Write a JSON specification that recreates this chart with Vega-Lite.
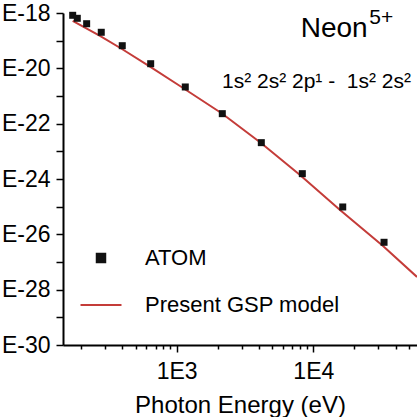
{
  "$schema": "https://vega.github.io/schema/vega-lite/v6.json",
  "width": 354,
  "height": 332,
  "autosize": "none",
  "padding": {"left": 63, "top": 13, "right": 0, "bottom": 72},
  "background": "white",
  "config": {
    "view": {"stroke": null},
    "font": "Liberation Sans",
    "axis": {"grid": false, "domainColor": "black", "domainWidth": 2, "tickColor": "black", "tickWidth": 1.5, "labelColor": "black", "titleColor": "black", "labelFont": "Liberation Sans", "titleFont": "Liberation Sans", "labelFontWeight": "normal", "titleFontWeight": "normal"}
  },
  "datasets": {
    "atom": [
      {"energy": 173.3, "cs": 8.26e-19, "series": "ATOM"},
      {"energy": 187.3, "cs": 6.43e-19, "series": "ATOM"},
      {"energy": 219.3, "cs": 4.10e-19, "series": "ATOM"},
      {"energy": 280.5, "cs": 2.01e-19, "series": "ATOM"},
      {"energy": 399.6, "cs": 6.58e-20, "series": "ATOM"},
      {"energy": 645.2, "cs": 1.47e-20, "series": "ATOM"},
      {"energy": 1156, "cs": 2.12e-21, "series": "ATOM"},
      {"energy": 2157, "cs": 2.30e-22, "series": "ATOM"},
      {"energy": 4163, "cs": 2.06e-23, "series": "ATOM"},
      {"energy": 8308, "cs": 1.56e-24, "series": "ATOM"},
      {"energy": 16420, "cs": 9.75e-26, "series": "ATOM"},
      {"energy": 32940, "cs": 5.16e-27, "series": "ATOM"}
    ],
    "gsp": [
      {"energy": 173.3, "cs": 5.14e-19, "series": "Present GSP model"},
      {"energy": 274.5, "cs": 1.48e-19, "series": "Present GSP model"},
      {"energy": 397.6, "cs": 5.00e-20, "series": "Present GSP model"},
      {"energy": 637.6, "cs": 1.16e-20, "series": "Present GSP model"},
      {"energy": 1057, "cs": 2.30e-21, "series": "Present GSP model"},
      {"energy": 2146, "cs": 2.33e-22, "series": "Present GSP model"},
      {"energy": 4142, "cs": 2.00e-23, "series": "Present GSP model"},
      {"energy": 7991, "cs": 1.40e-24, "series": "Present GSP model"},
      {"energy": 15690, "cs": 7.59e-26, "series": "Present GSP model"},
      {"energy": 32380, "cs": 3.79e-27, "series": "Present GSP model"},
      {"energy": 57410, "cs": 2.88e-28, "series": "Present GSP model"}
    ],
    "notes": [{"label": "annotation"}]
  },
  "layer": [
    {
      "data": {"name": "gsp"},
      "mark": {"type": "line", "strokeWidth": 2, "clip": true},
      "encoding": {
        "x": {"field": "energy", "type": "quantitative", "scale": {"type": "log", "domain": [147.2, 57400], "nice": false},
          "axis": {
            "title": "Photon Energy (eV)", "titleFontSize": 24, "titlePadding": 10,
            "values": [200, 300, 400, 500, 600, 700, 800, 900, 1000, 2000, 3000, 4000, 5000, 6000, 7000, 8000, 9000, 10000, 20000, 30000, 40000, 50000],
            "labelExpr": "datum.value == 1000 ? '1E3' : (datum.value == 10000 ? '1E4' : '')",
            "labelFontSize": 23, "labelPadding": 8, "labelFlush": false, "labelOverlap": false,
            "tickSize": {"condition": {"test": "datum.value == 1000 || datum.value == 10000", "value": 7}, "value": 4}
          }},
        "y": {"field": "cs", "type": "quantitative", "scale": {"type": "log", "domain": [1e-30, 1e-18], "nice": false},
          "axis": {
            "title": null,
            "values": [1e-18, 1e-19, 1e-20, 1e-21, 1e-22, 1e-23, 1e-24, 1e-25, 1e-26, 1e-27, 1e-28, 1e-29, 1e-30],
            "labelExpr": "(round(log(datum.value)/LN10) % 2 == 0) ? 'E' + round(log(datum.value)/LN10) : ''",
            "labelFontSize": 23, "labelPadding": 6, "tickSize": 7, "labelOverlap": false, "labelFlush": false
          }},
        "color": {"field": "series", "type": "nominal",
          "scale": {"domain": ["ATOM", "Present GSP model"], "range": ["#111111", "#c43c39"]},
          "legend": {"title": null, "orient": "none", "legendX": 27, "legendY": 234, "padding": 0,
            "labelFontSize": 22, "labelFont": "Liberation Sans", "labelColor": "black", "labelOffset": 33, "labelLimit": 0, "rowPadding": 25,
            "symbolSize": 72, "symbolStrokeWidth": 2,
            "encode": {"symbols": {"update": {"fill": {"scale": "color", "field": "value"}, "stroke": {"scale": "color", "field": "value"}, "strokeWidth": {"value": 2}}}}}}
      }
    },
    {
      "data": {"name": "atom"},
      "mark": {"type": "point", "filled": true, "size": 49, "opacity": 1},
      "encoding": {
        "x": {"field": "energy", "type": "quantitative"},
        "y": {"field": "cs", "type": "quantitative"},
        "color": {"field": "series", "type": "nominal",
          "legend": {"title": null, "orient": "none", "legendX": 27, "legendY": 234, "padding": 0,
            "labelFontSize": 22, "labelFont": "Liberation Sans", "labelColor": "black", "labelOffset": 33, "labelLimit": 0, "rowPadding": 25,
            "symbolSize": 72, "symbolStrokeWidth": 2,
            "encode": {"symbols": {"update": {"fill": {"scale": "color", "field": "value"}, "stroke": {"scale": "color", "field": "value"}, "strokeWidth": {"value": 2}}}}}},
        "shape": {"field": "series", "type": "nominal",
          "scale": {"domain": ["ATOM", "Present GSP model"], "range": ["square", "M-4.83,0H4.83"]},
          "legend": {"title": null, "orient": "none", "legendX": 27, "legendY": 234, "padding": 0,
            "labelFontSize": 22, "labelFont": "Liberation Sans", "labelColor": "black", "labelOffset": 33, "labelLimit": 0, "rowPadding": 25,
            "symbolSize": 72, "symbolStrokeWidth": 2,
            "encode": {"symbols": {"update": {"fill": {"scale": "color", "field": "value"}, "stroke": {"scale": "color", "field": "value"}, "strokeWidth": {"value": 2}}}}}}
      }
    },
    {
      "data": {"name": "notes"},
      "mark": {"type": "text", "text": "Neon", "fontSize": 28, "font": "Liberation Sans", "align": "left", "baseline": "alphabetic", "color": "black"},
      "encoding": {"x": {"datum": 8087}, "y": {"datum": 1.32e-19}}
    },
    {
      "data": {"name": "notes"},
      "mark": {"type": "text", "text": "5+", "fontSize": 21, "font": "Liberation Sans", "align": "left", "baseline": "alphabetic", "color": "black"},
      "encoding": {"x": {"datum": 25700}, "y": {"datum": 4.0e-19}}
    },
    {
      "data": {"name": "notes"},
      "mark": {"type": "text", "text": "1s² 2s² 2p¹ -\u00a0\u00a01s² 2s²", "fontSize": 21, "font": "Liberation Sans", "align": "left", "baseline": "alphabetic", "color": "black"},
      "encoding": {"x": {"datum": 2146}, "y": {"datum": 1.90e-21}}
    }
  ]
}
